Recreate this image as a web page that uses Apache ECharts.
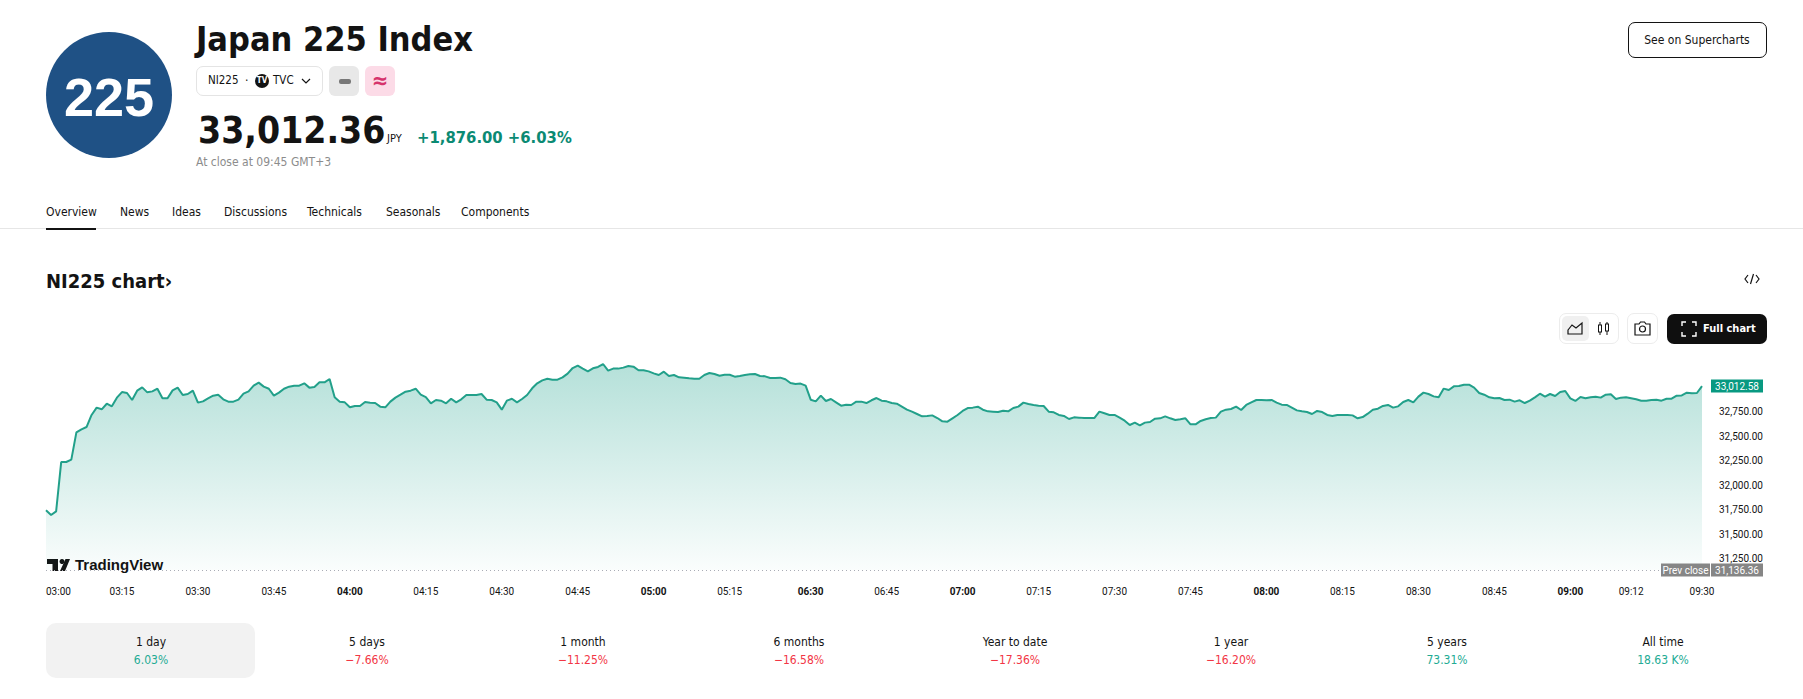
<!DOCTYPE html>
<html>
<head>
<meta charset="utf-8">
<title>NI225 chart</title>
<script src="https://cdn.jsdelivr.net/npm/echarts@6/dist/echarts.min.js"></script>
<style>
html, body { margin: 0; padding: 0; background: #fff; }
body { width: 1803px; height: 699px; overflow: hidden; position: relative; color: #131313;
	font-family: "DejaVu Sans Condensed", sans-serif; }
#chart { position: absolute; left: 0; top: 0; width: 1803px; height: 699px; }
.t { position: absolute; white-space: nowrap; line-height: 1; }
.box { position: absolute; box-sizing: border-box; }
.c { transform: translateX(-50%); }
.up { color: #22ab94; }
.down { color: #f23645; }
.nav { font-size: 12px; top: 206px; }
.pl { font-size: 12px; top: 636px; }
.pv { font-size: 12px; top: 654px; }
</style>
</head>
<body>
<div id="chart"></div>

<div class="box" style="left:46px;top:32px;width:126px;height:126px;border-radius:50%;background:#1f5185"></div>
<div class="t c" style="left:109px;top:66px;font:bold 54px 'Liberation Sans';color:#fff">225</div>
<div class="t" style="left:196px;top:22px;font-size:34px;font-weight:bold">Japan 225 Index</div>

<div class="box" style="left:196px;top:66px;width:127px;height:30px;border:1px solid #e4e4e4;border-radius:7px"></div>
<div class="t" style="left:208px;top:75px;font-size:11.5px">NI225</div>
<div class="t" style="left:245px;top:75px;font-size:12px">&middot;</div>
<div class="box" style="left:255px;top:74px;width:14px;height:14px;border-radius:50%;background:#131313"></div>
<div class="t c" style="left:262px;top:77px;font-size:8px;font-weight:bold;color:#fff">TV</div>
<div class="t" style="left:273px;top:75px;font-size:11.5px">TVC</div>
<svg class="box" style="left:301px;top:77px" width="10" height="8"><path d="M1 2l4 4 4-4" fill="none" stroke="#131313" stroke-width="1.2"/></svg>
<div class="box" style="left:329px;top:66px;width:30px;height:30px;border-radius:6px;background:#e8e8e8"></div>
<div class="box" style="left:339px;top:79px;width:12px;height:5px;border-radius:2px;background:#787878"></div>
<div class="box" style="left:365px;top:66px;width:30px;height:30px;border-radius:6px;background:#fcdbe7"></div>
<div class="t c" style="left:380px;top:70px;font-size:22px;font-weight:bold;color:#d6336c">&#8776;</div>

<div class="t" style="left:198px;top:112px;font-size:37px;font-weight:bold">33,012.36</div>
<div class="t" style="left:387px;top:133px;font-size:11px">JPY</div>
<div class="t" style="left:417px;top:130px;font-size:16.5px;font-weight:bold;color:#0b8a73">+1,876.00 +6.03%</div>
<div class="t" style="left:196px;top:156px;font-size:12px;color:#8c8c8c">At close at 09:45 GMT+3</div>

<div class="box" style="left:1628px;top:22px;width:139px;height:36px;border:1px solid #131313;border-radius:7px"></div>
<div class="t c" style="left:1697px;top:34px;font-size:12px">See on Supercharts</div>

<div class="t nav" style="left:46px">Overview</div>
<div class="t nav" style="left:120px">News</div>
<div class="t nav" style="left:172px">Ideas</div>
<div class="t nav" style="left:224px">Discussions</div>
<div class="t nav" style="left:307px">Technicals</div>
<div class="t nav" style="left:386px">Seasonals</div>
<div class="t nav" style="left:461px">Components</div>
<div class="box" style="left:0;top:228px;width:1803px;height:1px;background:#e6e6e6"></div>
<div class="box" style="left:46px;top:228px;width:50px;height:2px;background:#131313"></div>

<div class="t" style="left:46px;top:271px;font-size:20px;font-weight:bold">NI225 chart&#8250;</div>
<svg class="box" style="left:1744px;top:273px" width="16" height="12"><path d="M4 2L1 6l3 4M12 2l3 4-3 4M9.5 1L6.5 11" fill="none" stroke="#131313" stroke-width="1.2"/></svg>

<div class="box" style="left:1559px;top:313px;width:60px;height:31px;border:1px solid #ececec;border-radius:7px"></div>
<div class="box" style="left:1562px;top:316px;width:27px;height:25px;border-radius:5px;background:#f0f0f0"></div>
<svg class="box" style="left:1567px;top:321px" width="17" height="15"><path d="M1 9l4-5 4 3 6-5v11H1z" fill="none" stroke="#131313" stroke-width="1.2"/></svg>
<svg class="box" style="left:1596px;top:321px" width="15" height="15"><path d="M4 1v13M11 1v13" stroke="#131313"/><rect x="2.5" y="4" width="3" height="7" fill="#fff" stroke="#131313"/><rect x="9.5" y="3" width="3" height="7" fill="#fff" stroke="#131313"/></svg>
<div class="box" style="left:1627px;top:313px;width:31px;height:31px;border:1px solid #ececec;border-radius:7px"></div>
<svg class="box" style="left:1634px;top:321px" width="17" height="15"><path d="M1 3h4l1.5-2h4L12 3h4v11H1z" fill="none" stroke="#131313" stroke-width="1.2"/><circle cx="8.5" cy="8" r="3" fill="none" stroke="#131313" stroke-width="1.2"/></svg>
<div class="box" style="left:1667px;top:314px;width:100px;height:30px;border-radius:7px;background:#0f0f0f"></div>
<svg class="box" style="left:1681px;top:321px" width="16" height="16"><path d="M1 5V1h4M11 1h4v4M15 11v4h-4M5 15H1v-4" fill="none" stroke="#fff" stroke-width="1.4"/></svg>
<div class="t" style="left:1703px;top:323px;font-size:11px;font-weight:bold;color:#fff">Full chart</div>

<div class="box" style="left:46px;top:623px;width:209px;height:55px;border-radius:10px;background:#f2f2f2"></div>
<script>
var periodNames = ["1 day", "5 days", "1 month", "6 months", "Year to date", "1 year", "5 years", "All time"];
var periodValues = ["6.03%", "\u22127.66%", "\u221211.25%", "\u221216.58%", "\u221217.36%", "\u221216.20%", "73.31%", "18.63 K%"];

var tickLabels = ["03:00", "03:15", "03:30", "03:45", "04:00", "04:15", "04:30", "04:45", "05:00", "05:15",
	"06:30", "06:45", "07:00", "07:15", "07:30", "07:45", "08:00", "08:15", "08:30", "08:45", "09:00", "09:12", "09:30"];
var boldTicks = ["04:00", "05:00", "06:30", "07:00", "08:00", "09:00"];
var priceTicks = [31250, 31500, 31750, 32000, 32250, 32500, 32750];

var prevClose = 31136.36;

// one close per minute: 03:00-05:30, 06:30-09:25, then the 09:30 auction
var closes = [
	31745, 31698, 31735, 32238, 32238, 32262, 32541, 32572, 32595, 32718,
	32793, 32776, 32833, 32806, 32895, 32952, 32942, 32871, 32966, 33000,
	32949, 32959, 32986, 32888, 32888, 32969, 32997, 32922, 32932, 32966,
	32844, 32857, 32888, 32915, 32925, 32878, 32854, 32854, 32874, 32935,
	32959, 33017, 33048, 33007, 32986, 32915, 32946, 32986, 33007, 33017,
	33017, 33041, 32997, 33003, 33051, 33051, 33085, 32898, 32854, 32847,
	32796, 32810, 32810, 32850, 32844, 32840, 32803, 32796, 32854, 32895,
	32925, 32956, 32966, 32986, 32925, 32901, 32837, 32871, 32864, 32837,
	32884, 32847, 32878, 32922, 32922, 32922, 32932, 32874, 32871, 32847,
	32772, 32864, 32884, 32847, 32881, 32922, 32990, 33041, 33071, 33088,
	33078, 33078, 33102, 33140, 33197, 33221, 33191, 33163, 33194, 33208,
	33238, 33170, 33191, 33191, 33201, 33218, 33211, 33174, 33174, 33163,
	33143, 33126, 33160, 33116, 33126, 33102, 33099, 33092, 33088, 33088,
	33126, 33146, 33136, 33119, 33129, 33129, 33109, 33116, 33126, 33133,
	33136, 33116, 33112, 33095, 33095, 33099, 33082, 33044, 33034, 33038,
	33017, 32874, 32857, 32915, 32861, 32881, 32847, 32813, 32823, 32820,
	32854, 32854, 32840, 32868, 32891, 32864, 32857, 32840, 32833, 32803,
	32772, 32752, 32728, 32704, 32708, 32714, 32687, 32653, 32650, 32684,
	32718, 32759, 32789, 32793, 32803, 32772, 32755, 32752, 32748, 32762,
	32755, 32789, 32803, 32844, 32830, 32820, 32813, 32810, 32752, 32745,
	32718, 32708, 32677, 32694, 32691, 32687, 32687, 32687, 32752, 32735,
	32718, 32718, 32691, 32660, 32616, 32640, 32612, 32640, 32646, 32680,
	32684, 32704, 32684, 32667, 32674, 32684, 32623, 32623, 32657, 32674,
	32687, 32691, 32752, 32772, 32779, 32803, 32769, 32820, 32847, 32871,
	32871, 32868, 32871, 32844, 32823, 32820, 32793, 32765, 32755, 32748,
	32728, 32759, 32748, 32718, 32708, 32718, 32718, 32718, 32714, 32684,
	32697, 32731, 32772, 32782, 32810, 32820, 32793, 32806, 32851, 32871,
	32847, 32905, 32946, 32932, 32908, 32898, 32987, 32973, 33010, 33014,
	33027, 33027, 32997, 32942, 32925, 32898, 32888, 32891, 32871, 32874,
	32854, 32868, 32840, 32864, 32898, 32935, 32905, 32932, 32912, 32952,
	32963, 32888, 32861, 32901, 32888, 32898, 32905, 32895, 32925, 32929,
	32881, 32895, 32898, 32888, 32878, 32864, 32864, 32871, 32874, 32864,
	32884, 32884, 32915, 32918, 32946, 32939, 32942, 33012.58
];

function pad(n) { return (n < 10 ? "0" : "") + n; }

function minuteRange(fromH, fromM, toH, toM) {
	var out = [];
	for (var m = fromH * 60 + fromM; m <= toH * 60 + toM; m++) {
		out.push(pad(Math.floor(m / 60)) + ":" + pad(m % 60));
	}
	return out;
}

var categories = minuteRange(3, 0, 5, 30).concat(minuteRange(6, 30, 9, 25), ["09:30"]);

function money(v) {
	return v.toLocaleString("en-US", { minimumFractionDigits: 2, maximumFractionDigits: 2 });
}

var axisFont = 'Roboto, sans-serif';
var lineColor = "#22a08a";

// the footer strip
periodNames.forEach(function(name, i) {
	var cx = 151 + i * 216;
	var isUp = periodValues[i].charAt(0) !== "\u2212";
	var a = document.createElement("div");
	a.className = "t c pl";
	a.style.left = cx + "px";
	a.textContent = name;
	var b = document.createElement("div");
	b.className = "t c pv " + (isUp ? "up" : "down");
	b.style.left = cx + "px";
	b.textContent = periodValues[i];
	document.body.appendChild(a);
	document.body.appendChild(b);
});

var chart = echarts.init(document.getElementById("chart"), null, { renderer: "svg" });

chart.setOption({
	animation: false,
	grid: { left: 46, right: 101, top: 350, height: 220 },
	xAxis: {
		type: "category",
		boundaryGap: false,
		data: categories,
		axisLine: { show: false },
		axisTick: { show: false },
		splitLine: { show: false },
		axisLabel: {
			interval: function(i, v) { return tickLabels.indexOf(v) >= 0; },
			alignMinLabel: "left",
			margin: 16,
			hideOverlap: false,
			fontFamily: axisFont,
			fontSize: 10,
			color: "#131313",
			formatter: function(v) {
				return boldTicks.indexOf(v) >= 0 ? "{b|" + v + "}" : v;
			},
			rich: { b: { fontFamily: axisFont, fontSize: 10, fontWeight: "bold", color: "#131313" } }
		}
	},
	yAxis: {
		type: "value",
		position: "right",
		min: prevClose,
		max: 33381,
		axisLine: { show: false },
		axisTick: { show: false },
		splitLine: { show: false },
		axisLabel: {
			customValues: priceTicks,
			margin: 17,
			fontFamily: axisFont,
			fontSize: 10,
			color: "#131313",
			formatter: money
		}
	},
	series: [{
		type: "line",
		data: closes,
		showSymbol: false,
		symbol: "none",
		clip: false,
		lineStyle: { color: lineColor, width: 2 },
		areaStyle: {
			opacity: 1,
			color: {
				type: "linear", x: 0, y: 0, x2: 0, y2: 1,
				colorStops: [
					{ offset: 0, color: "rgba(8,153,129,0.30)" },
					{ offset: 1, color: "rgba(8,153,129,0.02)" }
				]
			}
		},
		markLine: {
			silent: true,
			symbol: "none",
			label: { show: false },
			lineStyle: { color: "#a9acb5", type: [1, 3], width: 1 },
			data: [{ yAxis: prevClose }]
		},
		markPoint: {
			silent: true,
			data: [
				{
					coord: [categories.length - 1, closes[closes.length - 1]],
					symbol: "rect", symbolSize: [52, 13], symbolOffset: [35, 0],
					itemStyle: { color: "#089981" },
					label: { formatter: money(closes[closes.length - 1]) }
				},
				{
					coord: [categories.length - 1, prevClose],
					symbol: "rect", symbolSize: [49, 13], symbolOffset: [-16.5, 0],
					itemStyle: { color: "#868686" },
					label: { formatter: "Prev close" }
				},
				{
					coord: [categories.length - 1, prevClose],
					symbol: "rect", symbolSize: [52, 13], symbolOffset: [35, 0],
					itemStyle: { color: "#868686" },
					label: { formatter: money(prevClose) }
				}
			],
			label: { show: true, position: "inside", color: "#fff", fontFamily: axisFont, fontSize: 10 }
		}
	}],
	graphic: [
		{ type: "group", left: 47, top: 559, z: 100, children: [
			{ type: "polygon", shape: { points: [[0, 0], [11, 0], [11, 12], [5.5, 12], [5.5, 5], [0, 5]] }, style: { fill: "#131313" } },
			{ type: "circle", shape: { cx: 15, cy: 2.5, r: 2.5 }, style: { fill: "#131313" } },
			{ type: "polygon", shape: { points: [[18.5, 0], [23, 0], [18, 12], [13, 12]] }, style: { fill: "#131313" } }
		] },
		{ type: "text", left: 75, top: 557, z: 100, style: {
			text: "TradingView", fill: "#131313",
			font: 'bold 15px "Liberation Sans", sans-serif'
		} }
	]
});
</script>
</body>
</html>
